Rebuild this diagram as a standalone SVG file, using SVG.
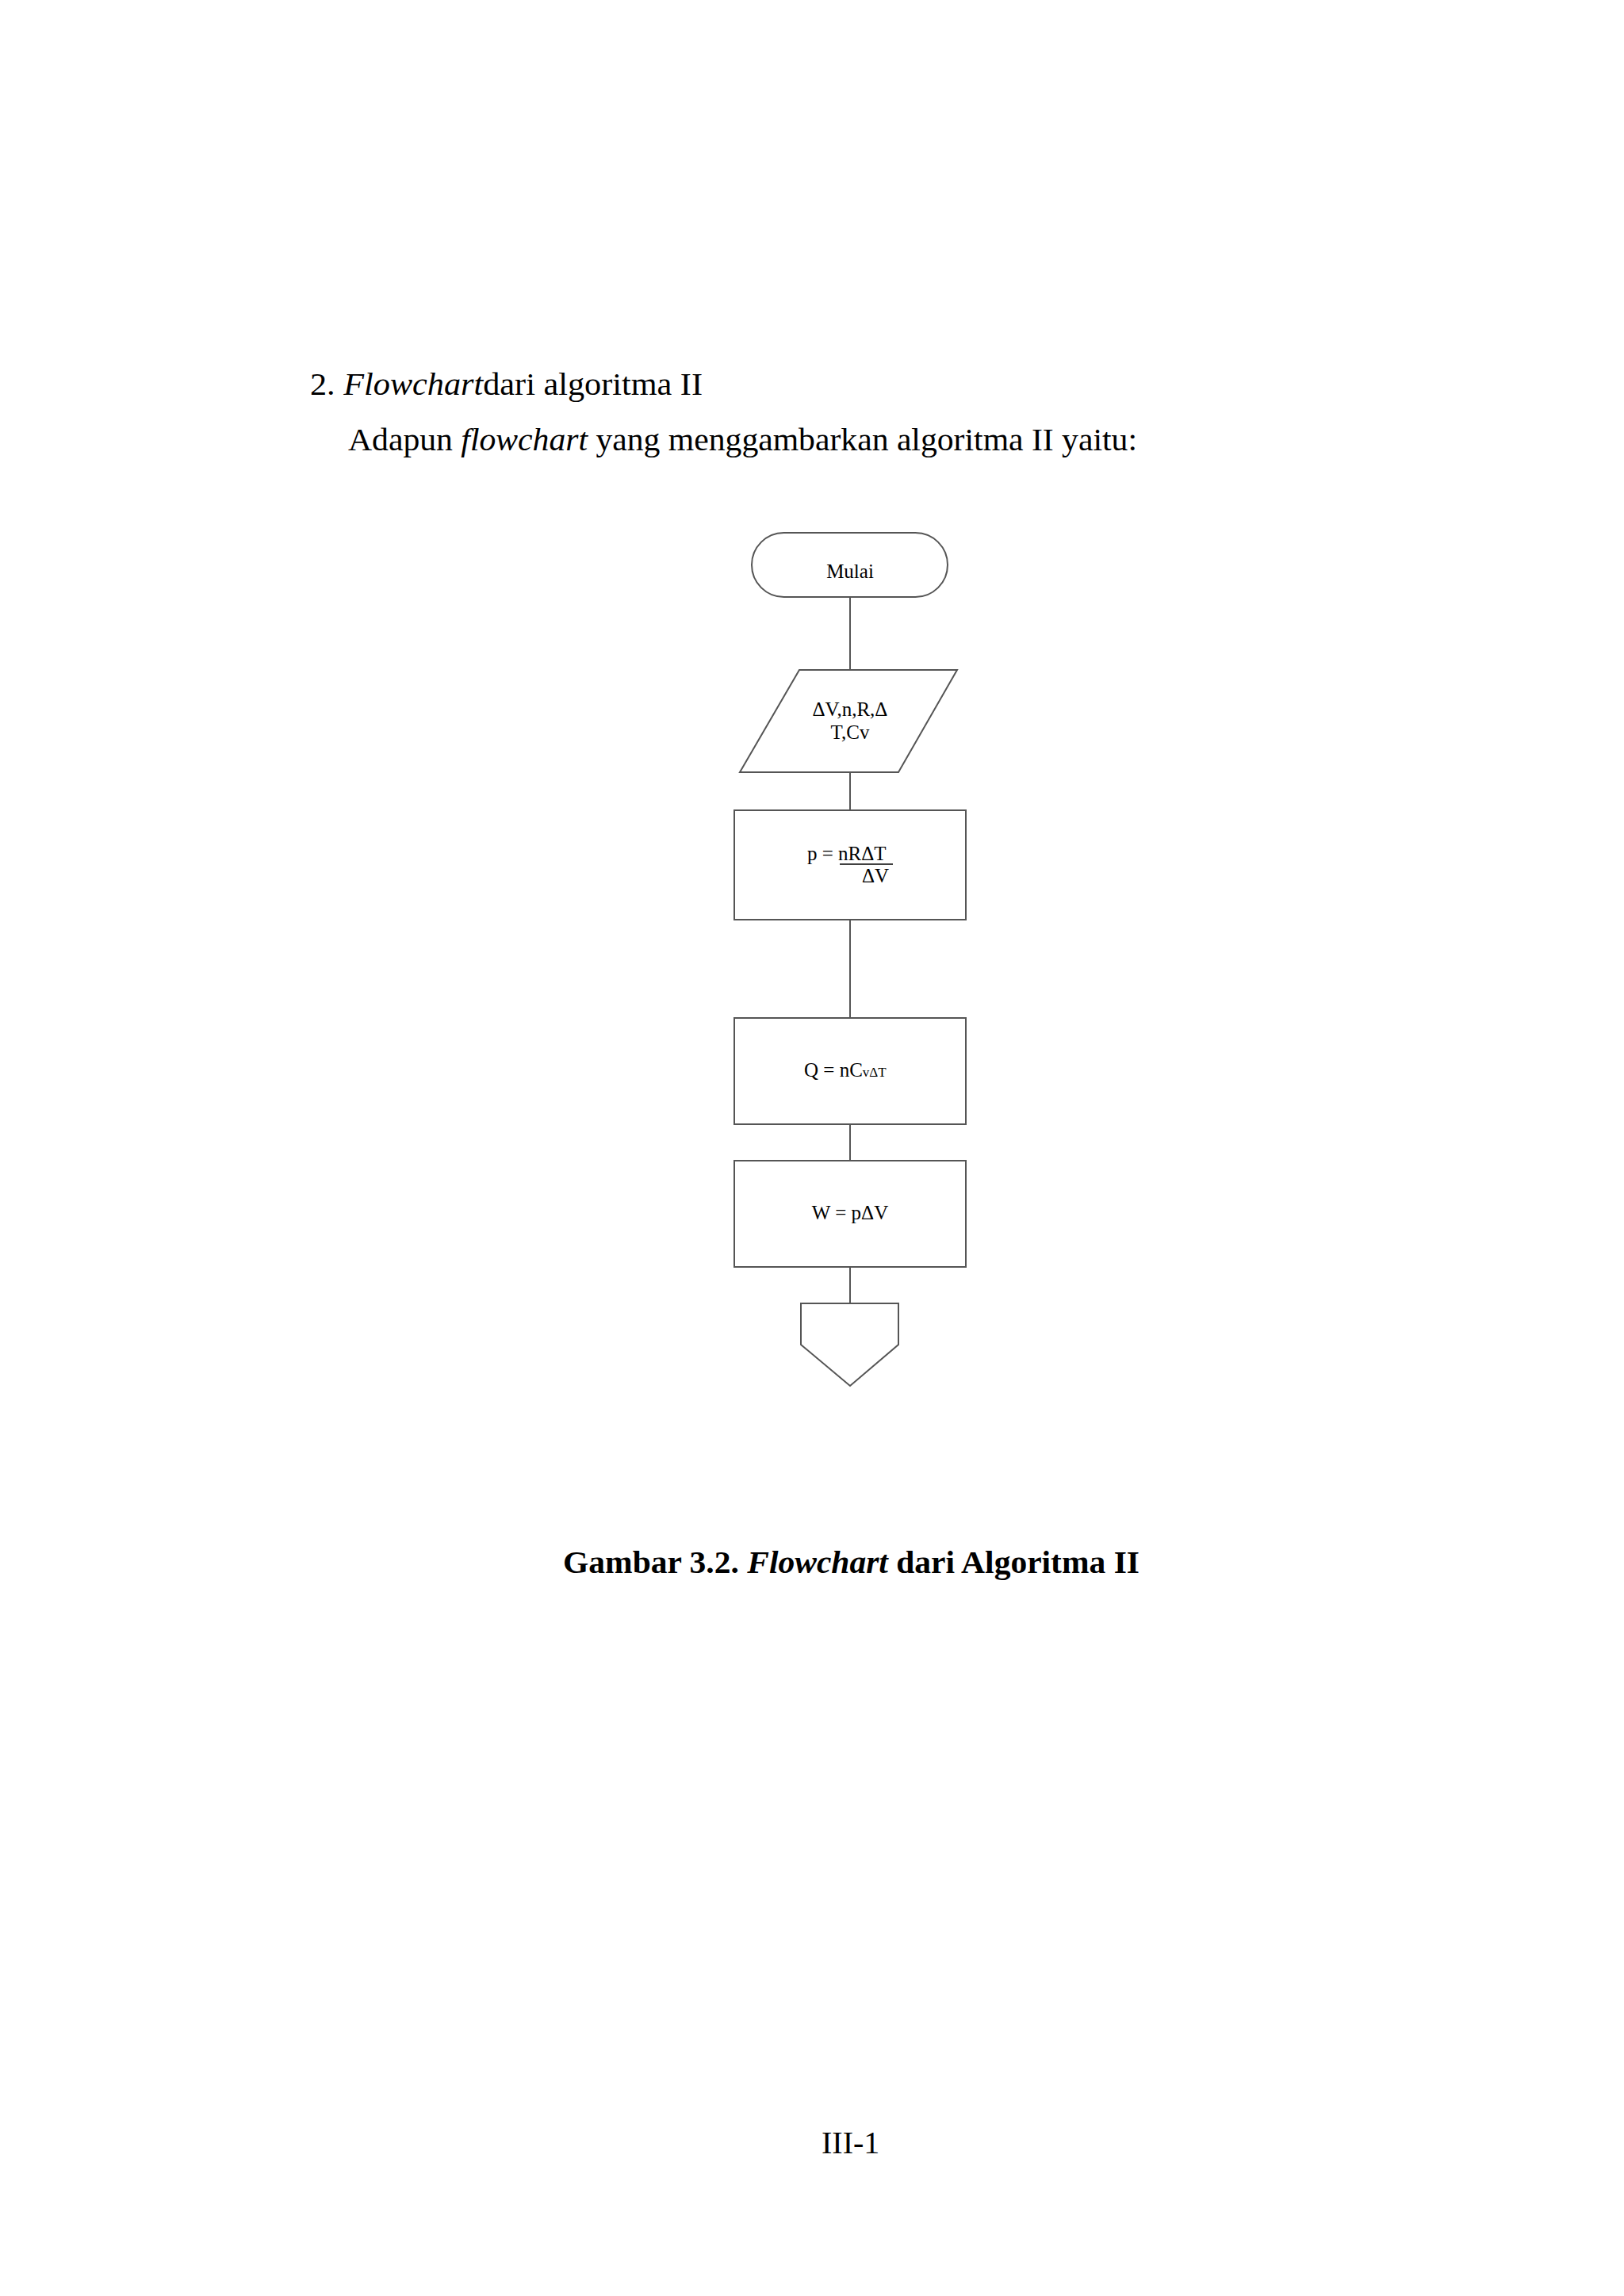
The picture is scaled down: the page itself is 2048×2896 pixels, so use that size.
<svg xmlns="http://www.w3.org/2000/svg" width="2048" height="2896" viewBox="0 0 2048 2896">
<style>
.t{font-family:"Liberation Serif",serif;fill:#000}
.s{fill:#fff;stroke:#555;stroke-width:2}
.c{stroke:#555;stroke-width:2;fill:none}
.n{font-family:"Liberation Serif",serif;font-size:25px;text-anchor:middle;fill:#000}
</style>
<rect width="2048" height="2896" fill="#fff"/>
<text class="t" x="391" y="498" font-size="40" textLength="495" lengthAdjust="spacingAndGlyphs">2.  <tspan font-style="italic">Flowchart</tspan>dari algoritma II</text>
<text class="t" x="439" y="568" font-size="40" textLength="995" lengthAdjust="spacingAndGlyphs">Adapun <tspan font-style="italic">flowchart</tspan> yang menggambarkan algoritma II yaitu:</text>
<g id="connectors">
<line class="c" x1="1072" y1="753" x2="1072" y2="845"/>
<line class="c" x1="1072" y1="974" x2="1072" y2="1022"/>
<line class="c" x1="1072" y1="1160" x2="1072" y2="1284"/>
<line class="c" x1="1072" y1="1418" x2="1072" y2="1464"/>
<line class="c" x1="1072" y1="1598" x2="1072" y2="1644"/>
</g>
<g id="start"><rect class="s" x="948" y="672" width="247" height="81" rx="40.5"/><text class="n" x="1072" y="729">Mulai</text></g>
<g id="input"><polygon class="s" points="1008,845 1207,845 1133,974 933,974"/><text class="n" x="1072" y="903">ΔV,n,R,Δ</text><text class="n" x="1072" y="932">T,Cv</text></g>
<g id="p"><rect class="s" x="926" y="1022" width="292" height="138"/><text class="t" font-size="25" x="1018" y="1085">p = nRΔT</text><line x1="1059" y1="1090" x2="1126" y2="1090" stroke="#000" stroke-width="1.5"/><text class="t" font-size="25" x="1087" y="1113">ΔV</text></g>
<g id="q"><rect class="s" x="926" y="1284" width="292" height="134"/><text class="t" font-size="25" x="1014" y="1358">Q = nC<tspan font-size="17">vΔT</tspan></text></g>
<g id="w"><rect class="s" x="926" y="1464" width="292" height="134"/><text class="n" x="1072" y="1538">W = pΔV</text></g>
<g id="offpage"><polygon class="s" points="1010,1644 1133,1644 1133,1696 1072,1748 1010,1696"/></g>
<text class="t" x="710" y="1984" font-size="40" font-weight="bold" textLength="727" lengthAdjust="spacingAndGlyphs">Gambar 3.2. <tspan font-style="italic">Flowchart</tspan> dari Algoritma II</text>
<text class="t" x="1036" y="2716" font-size="40">III-1</text>
</svg>
